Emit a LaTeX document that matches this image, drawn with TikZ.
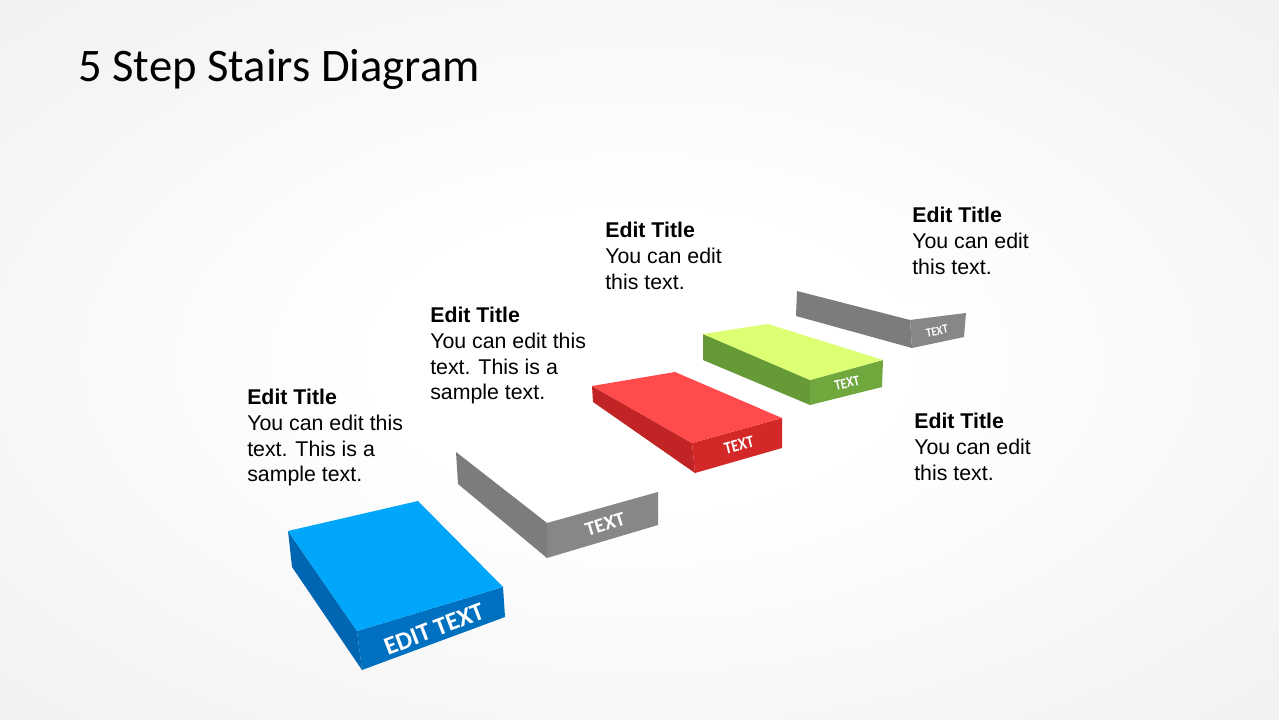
\documentclass[tikz,border=0pt]{standalone}
\usepackage{fontspec}
\newfontfamily\titlefont{Carlito}
\newfontfamily\notefont{Liberation Sans}
\definecolor{bluetop}{RGB}{0,166,250}
\definecolor{bluefront}{RGB}{0,112,192}
\definecolor{blueside}{RGB}{0,102,178}
\definecolor{redtop}{RGB}{255,75,75}
\definecolor{redfront}{RGB}{212,40,40}
\definecolor{redside}{RGB}{192,36,36}
\definecolor{greentop}{RGB}{220,255,115}
\definecolor{greenfront}{RGB}{112,168,62}
\definecolor{greenside}{RGB}{102,154,54}
\definecolor{grayfront}{RGB}{135,135,135}
\definecolor{grayside}{RGB}{124,124,124}
\definecolor{backmid}{RGB}{243,243,243}
\definecolor{backout}{RGB}{236,236,236}
\definecolor{backedge}{RGB}{222,222,222}
\pgfdeclareradialshading{backglow}{\pgfpoint{0bp}{0bp}}{color(0bp)=(white); color(10bp)=(white); color(32bp)=(backmid); color(50bp)=(backout); color(71bp)=(backedge)}

\begin{document}
\begin{tikzpicture}[x=0.75pt,y=-0.75pt,
    note/.style={anchor=north west, inner sep=0pt, align=left, font=\notefont\fontsize{16}{19.3}\selectfont},
    facetext/.style={text=white, inner sep=0pt}]
        \shade[shading=backglow] (0,0) rectangle (1279,720);
        \useasboundingbox (0,0) rectangle (1279,720);
        \node[anchor=base west, inner sep=0pt, font=\titlefont\fontsize{35}{42}\selectfont] (title) at (78,82) {5 Step Stairs Diagram};
        % step 1
        \fill[blueside] (288,531) -- (357,631) -- (362,670) -- (292,567) -- cycle;
        \fill[bluefront] (357,631) -- (503,587) -- (505,617) -- (362,670) -- cycle;
        \fill[bluetop] (288,531) -- (418,501) -- (503,587) -- (357,631) -- cycle;
        \node[facetext, rotate=21, font=\titlefont\bfseries\fontsize{19}{19}\selectfont] (step1) at (434,629) {EDIT TEXT};
        % step 2
        \fill[white] (456,452) -- (567,421) -- (658,492) -- (547,523) -- cycle;
        \fill[grayside] (456,452) -- (547,523) -- (547,558) -- (458,484) -- cycle;
        \fill[grayfront] (547,523) -- (658,492) -- (658,525) -- (547,558) -- cycle;
        \node[facetext, rotate=17, font=\titlefont\bfseries\fontsize{15}{15}\selectfont] (step2) at (605,524) {TEXT};
        % step 3
        \fill[redside] (592,386) -- (692,443) -- (695,473) -- (593,402) -- cycle;
        \fill[redfront] (692,443) -- (782,418) -- (782,448) -- (695,473) -- cycle;
        \fill[redtop] (592,386) -- (675,372) -- (782,418) -- (692,443) -- cycle;
        \node[facetext, rotate=14, xscale=0.85, font=\titlefont\bfseries\fontsize{13}{13}\selectfont] (step3) at (739,445) {TEXT};
        % step 4
        \fill[greenside] (703,334) -- (810,380) -- (810,405) -- (703,360) -- cycle;
        \fill[greenfront] (810,380) -- (883,360) -- (882,387) -- (810,405) -- cycle;
        \fill[greentop] (703,334) -- (768,324) -- (883,360) -- (810,380) -- cycle;
        \node[facetext, rotate=13, xscale=0.85, font=\titlefont\bfseries\fontsize{11}{11}\selectfont] (step4) at (847,383) {TEXT};
        % step 5
        \fill[white] (797,291) -- (853,284) -- (966,313) -- (910,320) -- cycle;
        \fill[grayside] (797,291) -- (910,320) -- (912,348) -- (796,316) -- cycle;
        \fill[grayfront] (910,320) -- (966,313) -- (964,337) -- (912,348) -- cycle;
        \node[facetext, rotate=11, xscale=0.85, font=\titlefont\bfseries\fontsize{9.5}{9.5}\selectfont] (step5) at (937,331) {TEXT};
        % notes
        \node[note] (note1) at (247,389) {\textbf{Edit Title}\\You can edit this\\text. This is a\\sample text.};
        \node[note] (note2) at (430,307) {\textbf{Edit Title}\\You can edit this\\text. This is a\\sample text.};
        \node[note] (note3) at (605,222) {\textbf{Edit Title}\\You can edit\\this text.};
        \node[note] (note4) at (912,207) {\textbf{Edit Title}\\You can edit\\this text.};
        \node[note] (note5) at (914,413) {\textbf{Edit Title}\\You can edit\\this text.};
    \end{tikzpicture}
\end{document}
